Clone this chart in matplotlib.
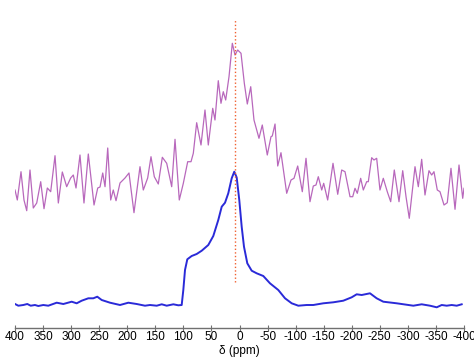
import numpy as np
import matplotlib
matplotlib.use('Agg')
import matplotlib.pyplot as plt

plt.rcParams['font.family'] = ['Liberation Sans', 'DejaVu Sans']

# upper trace (purple), chemical shift in ppm and intensity (arb. units)
ppm_top = [400, 395.9, 389.3, 384.0, 379.1, 373.3, 367.4, 361.3, 354.2, 348.3,
           342.4, 336.4, 328.7, 322.8, 315.7, 307.9, 300.8, 296.1, 291.3, 284.2,
           277.1, 269.4, 259.2, 252.6, 248.5, 243.7, 239.6, 234.8, 229.5, 224.9,
           220.0, 212.9, 204.0, 196.9, 188.0, 177.3, 171.4, 163.6, 157.7, 151.8,
           144.7, 137.5, 129.7, 120.8, 114.9, 107.3, 100.1, 92.3, 86.4, 82.3,
           76.3, 68.6, 61.5, 55.6, 47.7, 43.7, 37.8, 33.0, 28.9, 24.6,
           18.7, 12.8, 8.0, 3.2, -2.7, -8.6, -13.9, -20.0, -25.8, -34.7,
           -40.6, -49.5, -56.1, -58.4, -63.3, -68.1, -73.9, -84.1, -91.8, -97.1,
           -103.7, -111.9, -118.5, -125.6, -131.5, -136.3, -140.4, -146.5, -150.0, -157.1,
           -166.6, -175.0, -182.1, -188.0, -196.9, -201.7, -205.8, -209.9, -215.9, -220.6,
           -226.6, -229.5, -235.5, -239.6, -244.4, -250.3, -256.2, -263.3, -269.4, -275.8,
           -284.2, -290.8, -296.7, -302.5, -312.7, -318.6, -324.6, -330.5, -337.6, -342.4,
           -346.5, -352.4, -357.2, -364.4, -370.2, -376.8, -384.0, -391.1, -397.7, -400]
int_top = [0, -10, 18.3, -10, -20.7, 20, -18, -13, 8.3, -18.7,
           2, -1.7, 34.3, -13, 18, 3.3, 12, 15, 2, 35,
           -13, 36, -15, 2, 3, 17, 3.3, 42, -10, 0,
           -10.7, 7, 12, 17, -22.7, 23.3, 0, 12, 33.3, 13.3,
           6, 32.7, 26.7, 3.3, 50.7, -10, 6.7, 28.3, 28.3, 36.7,
           67.3, 45, 80, 45, 81.7, 70, 109.3, 86.7, 98.3, 90,
           113.3, 146.7, 135, 140, 136.7, 106.7, 86, 103.3, 70, 51.7,
           65, 35, 53.3, 54, 66, 24, 37.3, -3.3, 10, 11.7,
           24, -1.7, 31.7, -11.7, 4, 5, 13.3, 0, 6.7, -10,
           26.7, -4.3, 20, 18.3, -6.7, -6.7, 1.7, -3.3, 11.7, 0,
           8.3, 8.3, 32.3, 30, 31.7, 0, 11.7, -1.7, -11.7, 20,
           -11.7, 19.3, -6.7, -28.3, 23.3, 3.3, 30.7, -5, 19.3, 15,
           18.3, 0, -1.7, -15, -12.7, 21.7, -19.3, 25, -8.3, 1.7]
top_offset = 115

# lower trace (blue)
ppm_bot = [400, 394.1, 385.2, 378.1, 372.0, 364.4, 358.5, 349.6, 340.7, 325.7,
           313.9, 299.0, 290.1, 281.2, 269.4, 260.5, 253.4, 245.5, 230.7, 212.9,
           198.1, 183.2, 168.4, 159.5, 147.5, 138.6, 129.7, 117.9, 109.0, 103.0,
           100.1, 97.1, 93.0, 85.2, 76.3, 67.3, 55.6, 46.7, 37.8, 31.7,
           25.8, 20.0, 13.9, 9.3, 5.0, 0.4, -3.9, -8.0, -13.9, -21.7,
           -30.6, -42.4, -54.3, -69.1, -81.1, -93.0, -104.8, -119.7, -131.5, -149.3,
           -167.1, -184.9, -199.9, -208.8, -217.7, -232.5, -244.4, -256.2, -280.1, -309.7,
           -324.6, -339.4, -351.4, -360.3, -369.2, -378.1, -387.0, -395.9]
int_bot = [1, -0.7, 0, 1, -0.7, 0, -1, 0, -0.7, 2.3,
           1, 3.3, 1.7, 4.3, 6.7, 6.7, 8.3, 5, 2.3, 0,
           2.3, 1, -0.7, 0, -0.7, 0.7, -0.7, 0.7, -0.3, 0,
           15, 35, 45.7, 49, 51, 54.3, 60, 69, 85, 98.3,
           102.3, 111.7, 126.7, 133.3, 127.5, 105, 78.3, 58.3, 41.7, 34.3,
           31.7, 29, 21.7, 15, 6.7, 1.7, -0.7, 0, 0, 1.7,
           2.7, 4.3, 7.7, 10.7, 10, 11.7, 6.7, 3.3, 1.7, -0.7,
           0.7, -0.7, -2.3, 0, -0.7, 0, -0.7, 0.7]

ref_ppm = 8.0
xticks = np.arange(400, -401, -50)

fig = plt.figure(figsize=(4.74, 3.58), dpi=100)
ax = fig.add_axes([15/474, 30/358, 449/474, 328/358])

ax.plot(ppm_top, np.array(int_top) + top_offset, color='#b868bc', lw=0.9,
        solid_joinstyle='round')
ax.plot(ppm_bot, int_bot, color='#2a2ad8', lw=1.4, solid_joinstyle='round')
ax.plot([ref_ppm, ref_ppm], [23, 285], color='#f06030', lw=1.0,
        ls=(0, (1, 1.6)))

ax.set_xlim(400, -400)
ax.set_ylim(-23, 305)
ax.set_xticks(xticks)
ax.set_xticklabels([str(int(t)) for t in xticks], fontsize=8.5)
ax.set_yticks([])
for s in ['top', 'right', 'left']:
    ax.spines[s].set_visible(False)
ax.spines['bottom'].set_color('#707070')
ax.spines['bottom'].set_linewidth(1.0)
ax.tick_params(axis='x', direction='inout', length=4, width=0.8,
               color='#707070', pad=0.5)
ax.set_xlabel('δ (ppm)', fontsize=8.5, labelpad=1)

fig.savefig('out.png', dpi=100)
